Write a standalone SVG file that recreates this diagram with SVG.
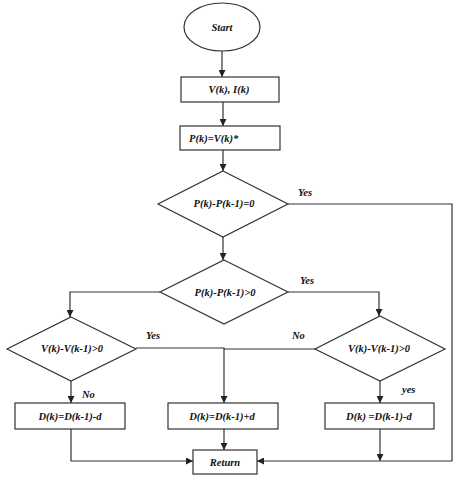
<svg xmlns="http://www.w3.org/2000/svg" width="474" height="482" viewBox="0 0 474 482">
<style>
.s{fill:#fff;stroke:#333;stroke-width:1.2}
.c{fill:none;stroke:#333;stroke-width:1.2}
text{font-family:"Liberation Serif","Times New Roman",serif;font-style:italic;font-weight:bold;font-size:10.5px;fill:#111}
.m{text-anchor:middle}
</style>
<defs>
<marker id="a" viewBox="0 0 10 10" refX="10" refY="5" markerWidth="7" markerHeight="7" markerUnits="userSpaceOnUse" orient="auto">
<path d="M0,0 L10,5 L0,10 z" fill="#222"/>
</marker>
</defs>
<rect width="474" height="482" fill="#fff"/>
<g id="connectors">
<path class="c" d="M222,51 V77" marker-end="url(#a)"/>
<path class="c" d="M223,102 V126" marker-end="url(#a)"/>
<path class="c" d="M223,150 V171" marker-end="url(#a)"/>
<path class="c" d="M288,204 H452 V461 H257" marker-end="url(#a)"/>
<path class="c" d="M223,237 V260" marker-end="url(#a)"/>
<path class="c" d="M160,292 H70 V317" marker-end="url(#a)"/>
<path class="c" d="M288,292 H379 V316" marker-end="url(#a)"/>
<path class="c" d="M136,348 H224 V403" marker-end="url(#a)"/>
<path class="c" d="M315,349 H224"/>
<path class="c" d="M71,381 V403" marker-end="url(#a)"/>
<path class="c" d="M380,381 V403" marker-end="url(#a)"/>
<path class="c" d="M71,429 V461 H193" marker-end="url(#a)"/>
<path class="c" d="M224,429 V450" marker-end="url(#a)"/>
<path class="c" d="M380,429 V461" marker-end="url(#a)"/>
<text x="298" y="196">Yes</text>
<text x="300" y="284">Yes</text>
<text x="146" y="339">Yes</text>
<text x="292" y="339">No</text>
<text x="82" y="398">No</text>
<text x="402" y="393">yes</text>
</g>
<g id="start"><ellipse class="s" cx="222" cy="27" rx="38" ry="24"/><text class="m" x="222" y="31">Start</text></g>
<g id="input"><rect class="s" x="181" y="77" width="98" height="25"/><text class="m" x="229" y="93">V(k), I(k)</text></g>
<g id="power"><rect class="s" x="180" y="126" width="100" height="24"/><text x="189" y="142">P(k)=V(k)*</text></g>
<g id="dec1"><polygon class="s" points="223,171 288,204 223,237 158,204"/><text class="m" x="224" y="207">P(k)-P(k-1)=0</text></g>
<g id="dec2"><polygon class="s" points="224,260 288,292 224,324 160,292"/><text class="m" x="225" y="296">P(k)-P(k-1)&gt;0</text></g>
<g id="dec3"><polygon class="s" points="71,317 136,349 71,381 7,349"/><text class="m" x="72" y="352">V(k)-V(k-1)&gt;0</text></g>
<g id="dec4"><polygon class="s" points="380,316 445,349 380,381 315,349"/><text class="m" x="379" y="352">V(k)-V(k-1)&gt;0</text></g>
<g id="boxL"><rect class="s" x="15" y="403" width="110" height="26"/><text class="m" x="70" y="420">D(k)=D(k-1)-d</text></g>
<g id="boxM"><rect class="s" x="168" y="403" width="110" height="26"/><text class="m" x="222" y="420">D(k)=D(k-1)+d</text></g>
<g id="boxR"><rect class="s" x="325" y="403" width="109" height="26"/><text class="m" x="379" y="420">D(k) =D(k-1)-d</text></g>
<g id="return"><rect class="s" x="193" y="450" width="64" height="24"/><text class="m" x="225" y="466">Return</text></g>
</svg>
